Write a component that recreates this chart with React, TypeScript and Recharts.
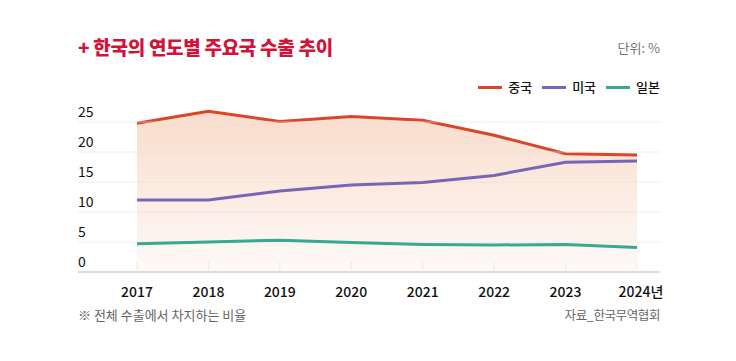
import React from "react";
import { ComposedChart, Area, Line, XAxis, YAxis, ReferenceLine } from "recharts";

const years = ["2017", "2018", "2019", "2020", "2021", "2022", "2023", "2024"];
const china = [24.8, 26.8, 25.1, 25.9, 25.3, 22.8, 19.7, 19.5];
const usa = [12.0, 12.0, 13.5, 14.5, 14.9, 16.1, 18.3, 18.5];
const japan = [4.7, 5.0, 5.3, 4.9, 4.6, 4.5, 4.6, 4.1];
const yTicks = [0, 5, 10, 15, 20, 25];

const data = years.map((y, i) => ({ year: y, china: china[i], usa: usa[i], japan: japan[i] }));

const RED = "#d8472a";
const PURPLE = "#7865b5";
const TEAL = "#37a98e";
const FONT = "'Noto Sans CJK KR', 'Noto Sans', sans-serif";

const XTick = (props: any) => {
    const { x, y, payload, index } = props;
    const last = index === years.length - 1;
    return (
        <g>
            <line x1={x} x2={x} y1={y - 10} y2={y} stroke="#e9e9e9" strokeWidth={1} />
            <text
                x={last ? x + 4 : x}
                y={y + 25}
                textAnchor="middle"
                fontSize={14}
                fontWeight={500}
                fill="#111"
                fontFamily={FONT}
            >
                {last ? payload.value + "년" : payload.value}
            </text>
        </g>
    );
};

const YTick = (props: any) => {
    const { y, payload } = props;
    return (
        <text x={78} y={y - 5} textAnchor="start" fontSize={14} fill="#111" fontFamily={FONT}>
            {payload.value}
        </text>
    );
};

const LegendItem = ({ color, label }: { color: string; label: string }) => (
    <div style={{ display: "flex", alignItems: "center", marginLeft: 10 }}>
        <div style={{ width: 24, height: 3, background: color, marginRight: 6 }} />
        <span style={{ fontSize: 13, fontWeight: 500, color: "#111" }}>{label}</span>
    </div>
);

export default function App() {
    return (
        <div
            style={{
                position: "absolute",
                left: 0,
                top: 0,
                width: 736,
                height: 361,
                background: "#fff",
                fontFamily: FONT,
            }}
        >
            {/* Title */}
            <div
                style={{
                    position: "absolute",
                    left: 78,
                    top: 33,
                    fontSize: 19,
                    fontWeight: 900,
                    color: "#d3123a",
                    letterSpacing: -0.3,
                    lineHeight: "28px",
                }}
            >
                + 한국의 연도별 주요국 수출 추이
            </div>
            <div
                style={{
                    position: "absolute",
                    right: 76,
                    top: 38,
                    fontSize: 13,
                    color: "#777",
                    lineHeight: "20px",
                }}
            >
                단위: %
            </div>

            {/* Legend */}
            <div
                style={{
                    position: "absolute",
                    right: 76,
                    top: 77,
                    display: "flex",
                    lineHeight: "20px",
                }}
            >
                <LegendItem color={RED} label="중국" />
                <LegendItem color={PURPLE} label="미국" />
                <LegendItem color={TEAL} label="일본" />
            </div>

            <div style={{ position: "absolute", left: 0, top: 0 }}>
                <ComposedChart
                    width={736}
                    height={361}
                    data={data}
                    margin={{ top: 92, right: 76, left: 18, bottom: 59 }}
                >
                    <defs>
                        <linearGradient id="chinaFill" x1="0" y1="0" x2="0" y2="1">
                            <stop offset="0%" stopColor="#f9dccb" />
                            <stop offset="100%" stopColor="#fefaf8" />
                        </linearGradient>
                    </defs>
                    <XAxis
                        dataKey="year"
                        scale="point"
                        padding={{ left: 59, right: 23 }}
                        height={30}
                        tickSize={0}
                        tickMargin={0}
                        tickLine={false}
                        axisLine={{ stroke: "#dcdcdc", strokeWidth: 2 }}
                        tick={<XTick />}
                        interval={0}
                    />
                    <YAxis
                        width={60}
                        type="number"
                        domain={[0, 30]}
                        ticks={yTicks}
                        axisLine={false}
                        tickLine={false}
                        tick={<YTick />}
                        interval={0}
                    />
                    <Area
                        type="linear"
                        dataKey="china"
                        stroke={RED}
                        strokeWidth={3}
                        fill="url(#chinaFill)"
                        fillOpacity={1}
                        dot={false}
                        activeDot={false}
                        isAnimationActive={false}
                    />
                    {yTicks.slice(1).map((t) => (
                        <ReferenceLine key={t} y={t} stroke="#e6e2e0" strokeOpacity={0.6} />
                    ))}
                    <Line
                        type="linear"
                        dataKey="usa"
                        stroke={PURPLE}
                        strokeWidth={3}
                        dot={false}
                        activeDot={false}
                        isAnimationActive={false}
                    />
                    <Line
                        type="linear"
                        dataKey="japan"
                        stroke={TEAL}
                        strokeWidth={3}
                        dot={false}
                        activeDot={false}
                        isAnimationActive={false}
                    />
                </ComposedChart>
            </div>

            {/* Footer */}
            <div
                style={{
                    position: "absolute",
                    left: 78,
                    top: 305,
                    fontSize: 13,
                    color: "#666",
                    lineHeight: "20px",
                }}
            >
                ※ 전체 수출에서 차지하는 비율
            </div>
            <div
                style={{
                    position: "absolute",
                    right: 76,
                    top: 305,
                    fontSize: 12.5,
                    color: "#666",
                    letterSpacing: -0.4,
                    lineHeight: "20px",
                }}
            >
                자료_한국무역협회
            </div>
        </div>
    );
}
